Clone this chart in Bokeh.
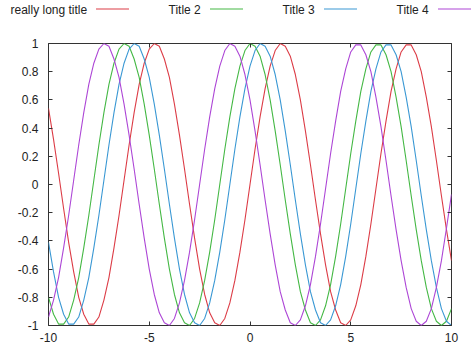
from bokeh.plotting import figure
from bokeh.layouts import column
from bokeh.models import Range1d, FixedTicker, LinearAxis, CustomJSTickFormatter
from bokeh.core.properties import value
from bokeh.embed import file_html
from bokeh.resources import INLINE

# sample positions along x
x = [-10.0, -9.75, -9.5, -9.25, -9.0, -8.75, -8.5, -8.25, -8.0, -7.75,
     -7.5, -7.25, -7.0, -6.75, -6.5, -6.25, -6.0, -5.75, -5.5, -5.25,
     -5.0, -4.75, -4.5, -4.25, -4.0, -3.75, -3.5, -3.25, -3.0, -2.75,
     -2.5, -2.25, -2.0, -1.75, -1.5, -1.25, -1.0, -0.75, -0.5, -0.25,
     0.0, 0.25, 0.5, 0.75, 1.0, 1.25, 1.5, 1.75, 2.0, 2.25,
     2.5, 2.75, 3.0, 3.25, 3.5, 3.75, 4.0, 4.25, 4.5, 4.75,
     5.0, 5.25, 5.5, 5.75, 6.0, 6.25, 6.5, 6.75, 7.0, 7.25,
     7.5, 7.75, 8.0, 8.25, 8.5, 8.75, 9.0, 9.25, 9.5, 9.75,
     10.0]

series_1 = [0.54, 0.32, 0.08, -0.17, -0.41, -0.62, -0.80, -0.92, -0.99, -0.99,
            -0.94, -0.82, -0.66, -0.45, -0.22, 0.03, 0.28, 0.51, 0.71, 0.86,
            0.96, 1.00, 0.98, 0.89, 0.76, 0.57, 0.35, 0.11, -0.14, -0.38,
            -0.60, -0.78, -0.91, -0.98, -1.00, -0.95, -0.84, -0.68, -0.48, -0.25,
            0.00, 0.25, 0.48, 0.68, 0.84, 0.95, 1.00, 0.98, 0.91, 0.78,
            0.60, 0.38, 0.14, -0.11, -0.35, -0.57, -0.76, -0.89, -0.98, -1.00,
            -0.96, -0.86, -0.71, -0.51, -0.28, -0.03, 0.22, 0.45, 0.66, 0.82,
            0.94, 0.99, 0.99, 0.92, 0.80, 0.62, 0.41, 0.17, -0.08, -0.32,
            -0.54]

series_2 = [-0.80, -0.92, -0.99, -0.99,
            -0.94, -0.82, -0.66, -0.45, -0.22, 0.03, 0.28, 0.51, 0.71, 0.86,
            0.96, 1.00, 0.98, 0.89, 0.76, 0.57, 0.35, 0.11, -0.14, -0.38,
            -0.60, -0.78, -0.91, -0.98, -1.00, -0.95, -0.84, -0.68, -0.48, -0.25,
            0.00, 0.25, 0.48, 0.68, 0.84, 0.95, 1.00, 0.98, 0.91, 0.78,
            0.60, 0.38, 0.14, -0.11, -0.35, -0.57, -0.76, -0.89, -0.98, -1.00,
            -0.96, -0.86, -0.71, -0.51, -0.28, -0.03, 0.22, 0.45, 0.66, 0.82,
            0.94, 0.99, 0.99, 0.92, 0.80, 0.62, 0.41, 0.17, -0.08, -0.32,
            -0.54, -0.73, -0.88, -0.97, -1.00, -0.97, -0.88]

series_3 = [-0.41, -0.62, -0.80, -0.92, -0.99, -0.99,
            -0.94, -0.82, -0.66, -0.45, -0.22, 0.03, 0.28, 0.51, 0.71, 0.86,
            0.96, 1.00, 0.98, 0.89, 0.76, 0.57, 0.35, 0.11, -0.14, -0.38,
            -0.60, -0.78, -0.91, -0.98, -1.00, -0.95, -0.84, -0.68, -0.48, -0.25,
            0.00, 0.25, 0.48, 0.68, 0.84, 0.95, 1.00, 0.98, 0.91, 0.78,
            0.60, 0.38, 0.14, -0.11, -0.35, -0.57, -0.76, -0.89, -0.98, -1.00,
            -0.96, -0.86, -0.71, -0.51, -0.28, -0.03, 0.22, 0.45, 0.66, 0.82,
            0.94, 0.99, 0.99, 0.92, 0.80, 0.62, 0.41, 0.17, -0.08, -0.32,
            -0.54, -0.73, -0.88, -0.97, -1.00]

series_4 = [-0.94, -0.82, -0.66, -0.45, -0.22, 0.03, 0.28, 0.51, 0.71, 0.86,
            0.96, 1.00, 0.98, 0.89, 0.76, 0.57, 0.35, 0.11, -0.14, -0.38,
            -0.60, -0.78, -0.91, -0.98, -1.00, -0.95, -0.84, -0.68, -0.48, -0.25,
            0.00, 0.25, 0.48, 0.68, 0.84, 0.95, 1.00, 0.98, 0.91, 0.78,
            0.60, 0.38, 0.14, -0.11, -0.35, -0.57, -0.76, -0.89, -0.98, -1.00,
            -0.96, -0.86, -0.71, -0.51, -0.28, -0.03, 0.22, 0.45, 0.66, 0.82,
            0.94, 0.99, 0.99, 0.92, 0.80, 0.62, 0.41, 0.17, -0.08, -0.32,
            -0.54, -0.73, -0.88, -0.97, -1.00, -0.97, -0.88, -0.73, -0.54, -0.31,
            -0.07]

titles = ["really long title", "Title 2", "Title 3", "Title 4"]
colors = ["#dc3c46", "#44b844", "#3a98d4", "#ad46d6"]
x_ticks = [-10, -5, 0, 5, 10]
y_ticks = [-1, -0.8, -0.6, -0.4, -0.2, 0, 0.2, 0.4, 0.6, 0.8, 1]

FONT = "Liberation Sans"
TXT = "#222222"
FS = "12px"

FRAME_L, FRAME_R = 48, 451

# ---------- legend strip (gnuplot style: title, then line sample) ----------
LEG_H = 26
leg = figure(width=474, height=LEG_H, output_backend="svg", toolbar_location=None,
             x_range=Range1d(0, 474), y_range=Range1d(LEG_H, 0),
             min_border=0, min_border_left=0, min_border_right=0,
             min_border_top=0, min_border_bottom=0)
leg.frame_align = False
leg.axis.visible = False
leg.grid.visible = False
leg.outline_line_color = None
leg.background_fill_color = "white"
leg.border_fill_color = "white"

text_x = [10, 168, 282, 396]
line_x0 = [95.5, 209.5, 323.5, 437.5]
line_x1 = [128.5, 242.5, 356.5, 470.5]
text_y = 9
line_y = 8.5
leg.text(x=text_x, y=[text_y] * 4, text=titles, text_font=value(FONT),
         text_font_size=value(FS), text_color=TXT, text_baseline="middle",
         text_align="left")
leg.segment(x0=line_x0, y0=[line_y] * 4, x1=line_x1, y1=[line_y] * 4,
            line_color=colors, line_width=1.2)

# ---------- main plot ----------
p = figure(width=474, height=355 - LEG_H, output_backend="svg", toolbar_location=None,
           x_range=Range1d(-10, 10), y_range=Range1d(-1, 1),
           min_border_left=FRAME_L, min_border_right=474 - FRAME_R,
           min_border_top=43 - LEG_H, min_border_bottom=30)
p.frame_align = False
p.grid.visible = False
p.background_fill_color = "white"
p.border_fill_color = "white"
p.outline_line_color = "#333333"
p.outline_line_width = 1

fmt = CustomJSTickFormatter(code="var s = tick.toFixed(1); if (s.endsWith('.0')) s = s.slice(0, -2); if (s == '-0') s = '0'; return s;")

def style_axis(ax, labels=True, standoff=8):
    ax.axis_line_color = None
    ax.major_tick_in = 4
    ax.major_tick_out = 0
    ax.major_tick_line_color = "#333333"
    ax.minor_tick_line_color = None
    ax.major_label_text_font = FONT
    ax.major_label_text_font_size = FS if labels else "0px"
    ax.major_label_text_color = TXT if labels else None
    ax.major_label_standoff = standoff

p.xaxis.ticker = FixedTicker(ticks=x_ticks)
p.yaxis.ticker = FixedTicker(ticks=y_ticks)
p.xaxis.formatter = fmt
p.yaxis.formatter = fmt
for ax in p.xaxis:
    style_axis(ax, True, 7)
for ax in p.yaxis:
    style_axis(ax, True, 10)

right = LinearAxis(ticker=FixedTicker(ticks=y_ticks))
style_axis(right, False, 0)
p.add_layout(right, "right")
top = LinearAxis(ticker=FixedTicker(ticks=x_ticks))
style_axis(top, False, 0)
p.add_layout(top, "above")

for ys, c in zip([series_1, series_2, series_3, series_4], colors):
    p.line(x, ys, line_color=c, line_width=1.1)

layout = column(leg, p, spacing=0)
open("out.html", "w").write(file_html(layout, INLINE))
